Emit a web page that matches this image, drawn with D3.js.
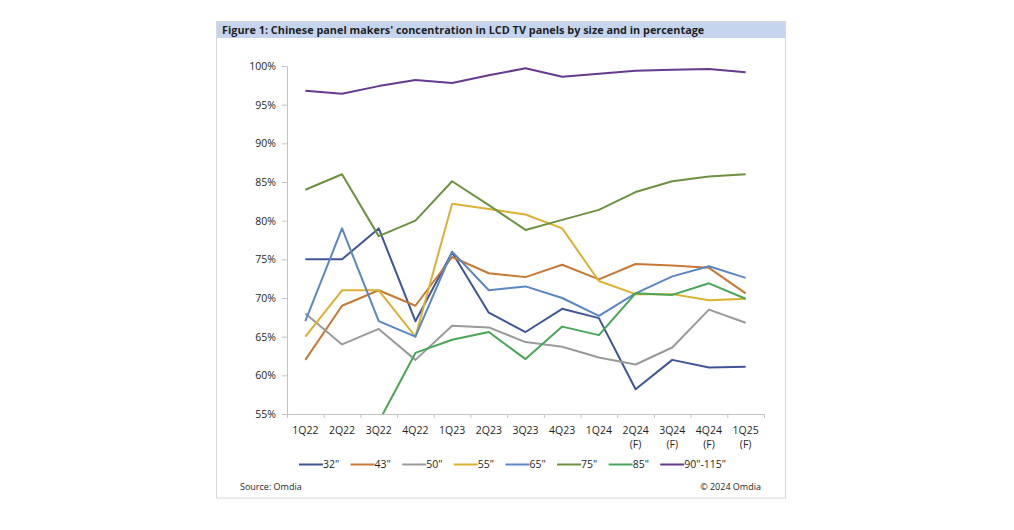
<!DOCTYPE html>
<html>
<head>
<meta charset="utf-8">
<script src="https://cdn.jsdelivr.net/npm/d3@7"></script>
<style>
  body { margin: 0; background: #fff; }
  text { font-family: "Open Sans", "Noto Sans", sans-serif; fill: #1f1f1f; }
</style>
</head>
<body>
<div class="chart"></div>
<script>
// chart data
var quarters = ["1Q22", "2Q22", "3Q22", "4Q22", "1Q23", "2Q23", "3Q23", "4Q23", "1Q24",
  "2Q24 (F)", "3Q24 (F)", "4Q24 (F)", "1Q25 (F)"];
var seriesNames = ["32\"", "43\"", "50\"", "55\"", "65\"", "75\"", "85\"", "90\"-115\""];
var s32 = [75, 75, 79, 67, 75.9, 68.1, 65.6, 68.6, 67.4, 58.2, 62.0, 61.0, 61.1];
var s43 = [62, 69, 71, 69, 75.3, 73.2, 72.7, 74.3, 72.4, 74.4, 74.2, 73.9, 70.6];
var s50 = [68, 64, 66, 62, 66.4, 66.2, 64.3, 63.7, 62.3, 61.4, 63.6, 68.5, 66.8];
var s55 = [65, 71, 71, 65, 82.2, 81.5, 80.8, 79.0, 72.2, 70.5, 70.5, 69.7, 69.9];
var s65 = [67, 79, 67, 65, 76.0, 71.0, 71.5, 70.0, 67.7, 70.6, 72.8, 74.1, 72.6];
var s75 = [84, 86, 78, 80, 85.1, 82.0, 78.8, 80.1, 81.4, 83.7, 85.1, 85.7, 86.0];
var s85 = [null, null, 54, 62.9, 64.6, 65.6, 62.1, 66.3, 65.2, 70.6, 70.4, 71.9, 69.9];
var s90 = [96.8, 96.4, 97.4, 98.2, 97.8, 98.8, 99.7, 98.6, 99.0, 99.4, 99.5, 99.6, 99.2];
var yTicks = [55, 60, 65, 70, 75, 80, 85, 90, 95, 100];

var seriesValues = [s32, s43, s50, s55, s65, s75, s85, s90];
var colors = ["#3f5597", "#c77834", "#9a9a9a", "#dcb131", "#5b86c3", "#6e9141", "#48a656", "#663a8f"];

// svg params
var svgWidth = 1014;
var svgHeight = 530;
var plot = { left: 287, right: 764, top: 66, bottom: 414 };

var svg = d3.select(".chart")
  .append("svg")
  .attr("width", svgWidth)
  .attr("height", svgHeight);

// frame + title bar
svg.append("rect")
  .attr("x", 216.5).attr("y", 21.5)
  .attr("width", 569).attr("height", 476.5)
  .attr("fill", "#fff")
  .attr("stroke", "#d9d9d9");

svg.append("rect")
  .attr("x", 217).attr("y", 22)
  .attr("width", 568).attr("height", 16)
  .attr("fill", "#c6d5ee");

var title = svg.append("text")
  .attr("x", 222).attr("y", 33.5)
  .attr("font-weight", "bold")
  .attr("font-size", 11)
  .text("Figure 1: Chinese panel makers' concentration in LCD TV panels by size and in percentage");
// squeeze title to the reference width
var tw = title.node().getComputedTextLength();
title.attr("font-size", 11 * 483 / tw);

// scales
var xScale = d3.scaleBand()
  .domain(quarters)
  .range([plot.left, plot.right]);

var xEdge = d3.scaleLinear()
  .domain([0, quarters.length])
  .range([plot.left, plot.right]);

var yScale = d3.scaleLinear()
  .domain([55, 100])
  .range([plot.bottom, plot.top]);

// y axis
var yAxis = d3.axisLeft(yScale)
  .tickValues(yTicks)
  .tickFormat(d => d + "%")
  .tickSize(5)
  .tickPadding(6)
  .tickSizeOuter(0);

var yG = svg.append("g")
  .attr("transform", `translate(${plot.left}, 0)`)
  .call(yAxis);
yG.select(".domain").attr("stroke", "#c4c4c4");
yG.selectAll(".tick line").attr("stroke", "#c4c4c4");
yG.selectAll("text").attr("font-size", 10.5).attr("fill", "#1f1f1f")
  .style("font-family", "'Open Sans', sans-serif");

// x axis: tick marks between categories
var xTickAxis = d3.axisBottom(xEdge)
  .tickValues(d3.range(quarters.length + 1))
  .tickFormat("")
  .tickSize(4)
  .tickSizeOuter(0);

var xG = svg.append("g")
  .attr("transform", `translate(0, ${plot.bottom})`)
  .call(xTickAxis);
xG.select(".domain").attr("stroke", "#c4c4c4");
xG.selectAll(".tick line").attr("stroke", "#c4c4c4");

// x axis labels at category centres
var xLabelAxis = d3.axisBottom(xScale)
  .tickSize(0)
  .tickPadding(0);

var xL = svg.append("g")
  .attr("transform", `translate(0, ${plot.bottom})`)
  .call(xLabelAxis);
xL.select(".domain").remove();
xL.selectAll("text")
  .attr("font-size", 10.5)
  .attr("fill", "#1f1f1f")
  .style("font-family", "'Open Sans', sans-serif")
  .attr("y", 19.5)
  .attr("dy", null)
  .each(function(d) {
    var parts = d.split(" ");
    var t = d3.select(this).text(null);
    parts.forEach(function(p, i) {
      t.append("tspan")
        .attr("x", 0)
        .attr("dy", i === 0 ? 0 : 14)
        .text(p);
    });
  });

// clip to plot area
svg.append("clipPath")
  .attr("id", "plotClip")
  .append("rect")
  .attr("x", plot.left - 2).attr("y", plot.top - 4)
  .attr("width", plot.right - plot.left + 4)
  .attr("height", plot.bottom - plot.top + 4);

var line = d3.line()
  .defined(d => d != null)
  .x((d, i) => xScale(quarters[i]) + xScale.bandwidth() / 2)
  .y(d => yScale(d));

svg.append("g")
  .attr("clip-path", "url(#plotClip)")
  .selectAll("path")
  .data(seriesValues)
  .enter()
  .append("path")
  .attr("d", d => line(d))
  .attr("fill", "none")
  .attr("stroke", (d, i) => colors[i])
  .attr("stroke-width", 2)
  .attr("stroke-linejoin", "round");

// legend, spread between x=299 and x=726 like the reference
var legendY = 464.5;
var legendLeft = 299, legendRight = 726;
var legend = svg.append("g");
var items = [];
var textTotal = 0;
seriesNames.forEach(function(name, i) {
  var item = legend.append("g");
  item.append("line")
    .attr("x1", 0).attr("x2", 24)
    .attr("stroke", colors[i])
    .attr("stroke-width", 2);
  var t = item.append("text")
    .attr("x", 24)
    .attr("y", 3.8)
    .attr("font-size", 10.5)
    .text(name);
  var w = 24 + t.node().getComputedTextLength();
  textTotal += w;
  items.push({ g: item, w: w });
});
var gap = (legendRight - legendLeft - textTotal) / (items.length - 1);
var lx = legendLeft;
items.forEach(function(it) {
  it.g.attr("transform", `translate(${lx}, ${legendY})`);
  lx += it.w + gap;
});

// footer
svg.append("text")
  .attr("x", 240).attr("y", 490)
  .attr("font-size", 9)
  .text("Source: Omdia");

svg.append("text")
  .attr("x", 761).attr("y", 490)
  .attr("font-size", 9)
  .attr("text-anchor", "end")
  .text("\u00a9 2024 Omdia");
</script>
</body>
</html>
